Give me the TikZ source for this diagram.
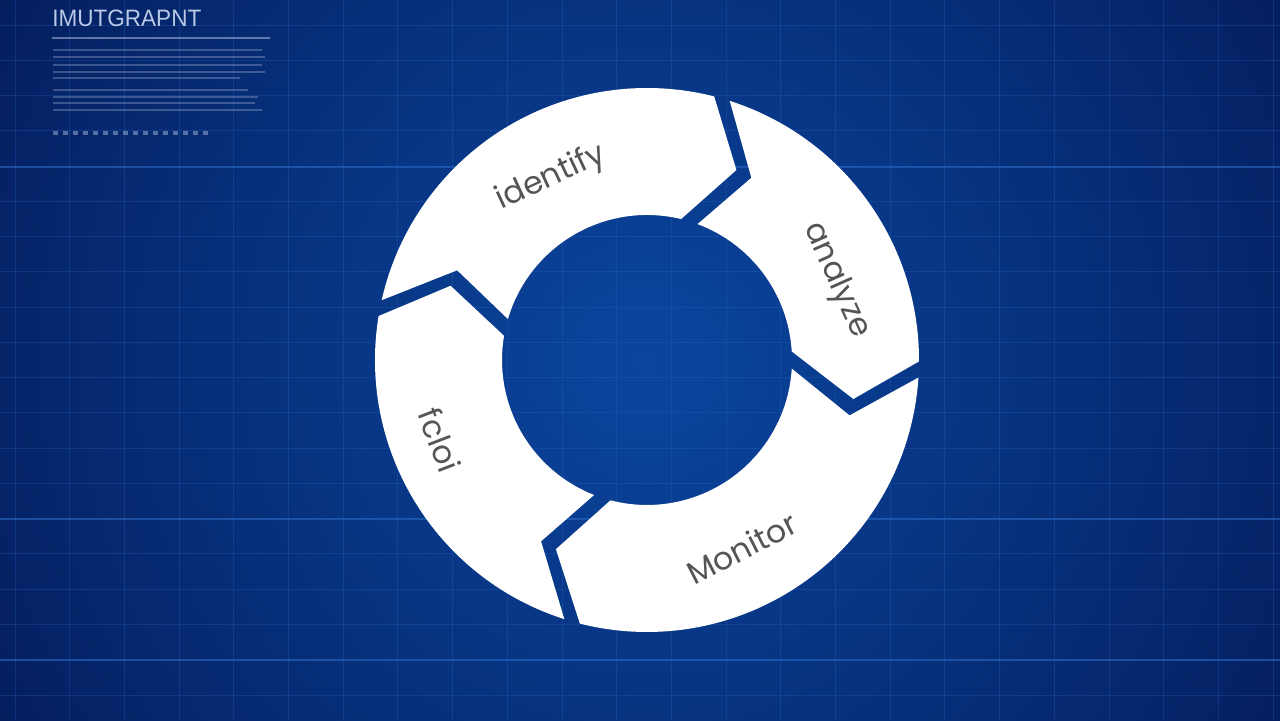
\documentclass[tikz,border=0pt]{standalone}
\usepackage{fontspec}
\setmainfont{Poppins}
\newfontfamily\titlefont{Liberation Sans}
\usetikzlibrary{calc}
\usetikzlibrary{positioning}

\definecolor{bgcenter}{RGB}{10,70,158}
\definecolor{bgedge}{RGB}{3,22,82}
\definecolor{gridblue}{RGB}{40,100,190}
\definecolor{labelgrey}{RGB}{85,85,85}
\definecolor{titleblue}{RGB}{185,200,230}

\begin{document}
\begin{tikzpicture}[
                x=0.02cm, y=0.02cm,
                gridline/.style={draw=gridblue, opacity=0.3, line width=0.5pt},
                majorline/.style={draw=gridblue, opacity=0.6, line width=0.8pt},
                ringpart/.style={fill=white},
                steplabel/.style={text=labelgrey, font=\fontsize{18}{20}\selectfont, inner sep=0pt},
                blurline/.style={draw=titleblue, opacity=0.3, line width=0.7pt}
            ]

            % Background
            \useasboundingbox (0,0) rectangle (1280,720);
            \begin{scope}
                \clip (0,0) rectangle (1280,720);
                \shade[inner color=bgcenter, outer color=bgedge] (647,360) circle (900);
            \end{scope}

            % Grid
            \foreach \k in {0,...,23}
                \draw[gridline] (15+54.7*\k,0) -- (15+54.7*\k,720);
            \foreach \k in {0,...,19}
                \draw[gridline] (0,695-35.26*\k) -- (1280,695-35.26*\k);
            \foreach \y in {553,201,60}
                \draw[majorline] (0,\y) -- (1280,\y);

            % Header
            \node[anchor=base west, inner sep=0pt, text=titleblue, xscale=0.95,
                  font=\titlefont\fontsize{13.5}{14}\selectfont] (title) at (52,693) {IMUTGRAPNT};
            \draw[blurline, opacity=0.5] (52,682) -- (270,682);
            \foreach \y/\xe in {670/262, 663/265, 655/262, 648/265, 642/240, 630/248, 623/258, 617/255, 610/262}
                \draw[blurline] (53,\y) -- (\xe,\y);
            \draw[blurline, opacity=0.45, line width=2pt, dash pattern=on 0.1cm off 0.1cm] (53,587) -- (210,587);

            % Ring parts
            \coordinate (c) at (647,360);
            \fill[ringpart] ($(c)+(167.3:272)$) arc[start angle=167.3, end angle=75.7, radius=272]
                -- ($(c)+(64.8:210)$) -- ($(c)+(76.4:145)$)
                arc[start angle=76.4, end angle=163.6, radius=145]
                -- ($(c)+(154.7:210)$) -- cycle;
            \fill[ringpart] ($(c)+(72.3:272)$) arc[start angle=72.3, end angle=-0.3, radius=272]
                -- ($(c)+(-10.7:210)$) -- ($(c)+(3.4:145)$)
                arc[start angle=3.4, end angle=69.6, radius=145]
                -- ($(c)+(60.2:210)$) -- cycle;
            \fill[ringpart] ($(c)+(-3.7:272)$) arc[start angle=-3.7, end angle=-104.3, radius=272]
                -- ($(c)+(-115.7:210)$) -- ($(c)+(-104.6:145)$)
                arc[start angle=-104.6, end angle=-3.4, radius=145]
                -- ($(c)+(-15.3:210)$) -- cycle;
            \fill[ringpart] ($(c)+(252.3:272)$) arc[start angle=252.3, end angle=170.7, radius=272]
                -- ($(c)+(159.3:210)$) -- ($(c)+(170.4:145)$)
                arc[start angle=170.4, end angle=248.6, radius=145]
                -- ($(c)+(239.7:210)$) -- cycle;

            % Labels
            \node[steplabel, rotate=25] (identify) at (551,542) {identify};
            \node[steplabel, rotate=-66] (analyze) at (836,440) {analyze};
            \node[steplabel, rotate=27] (monitor) at (742,172) {Monitor};
            \node[steplabel, rotate=-69] (fcloi) at (440,280) {fcloi};

        \end{tikzpicture}
\end{document}
